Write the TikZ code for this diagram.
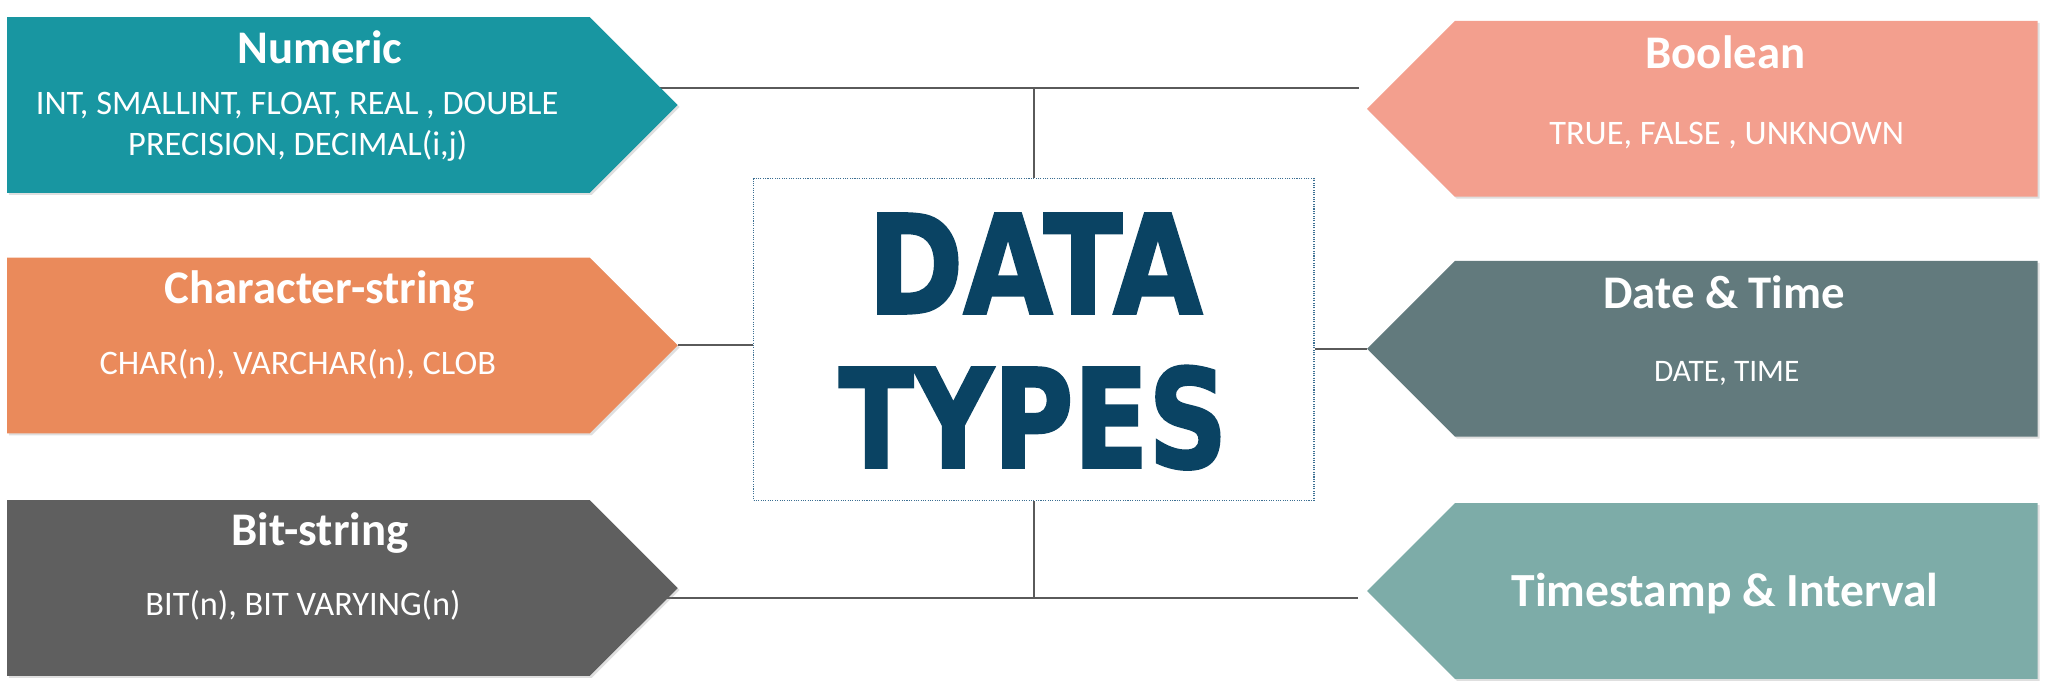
\documentclass[tikz,border=0pt]{standalone}
\usepackage{fontspec, graphicx}
\setmainfont{Carlito}
\newfontfamily\bannerfont{DejaVu Sans}[BoldFeatures={FakeBold=2}]
\usetikzlibrary{shapes.symbols, shadows, backgrounds}
\definecolor{numcol}{HTML}{1896A1}
\definecolor{boolcol}{HTML}{F39F8E}
\definecolor{charcol}{HTML}{EA8A5B}
\definecolor{datecol}{HTML}{627A7D}
\definecolor{bitcol}{HTML}{5F5F5F}
\definecolor{stampcol}{HTML}{7DACA8}
\definecolor{bannercol}{HTML}{0A4363}
\definecolor{linkgray}{HTML}{5A5A5A}
\definecolor{framecol}{HTML}{3B6F92}
\tikzset{
  typebox/.style={signal, signal pointer angle=90, minimum width=513.5pt,
    minimum height=134.5pt, inner sep=0pt, outer sep=0pt,
    drop shadow={shadow xshift=1.5pt, shadow yshift=-1.5pt, opacity=0.25}},
  title/.style={text=white, anchor=base, inner sep=0pt,
    font=\bfseries\fontsize{35.8}{42}\selectfont},
  body/.style={text=white, anchor=base, inner sep=0pt,
    font=\fontsize{26.3}{31}\selectfont},
  link/.style={draw=linkgray, line width=1.5pt},
  banner/.style={text=bannercol, anchor=base, inner sep=0pt,
    font=\bannerfont\bfseries\fontsize{105}{110}\selectfont}
}

\begin{document}
\begin{tikzpicture}[x=1pt, y=-1pt]
\useasboundingbox (0,0) rectangle (1568,527.6);

% left column
\node[typebox, signal to=east, fill=numcol] (numeric) at (228.5,80.4) {};
\node[typebox, signal to=east, fill=charcol] (charstr) at (228.5,264.5) {};
\node[typebox, signal to=east, fill=bitcol] (bitstr) at (228.5,450.2) {};
% right column
\node[typebox, signal to=west, fill=boolcol] (boolean) at (1337,83.3) {};
\node[typebox, signal to=west, fill=datecol] (datetime) at (1337,267) {};
\node[typebox, signal to=west, fill=stampcol] (stamp) at (1337,452.5) {};

% centre frame
\node[draw=framecol, densely dotted, line width=0.8pt, minimum width=429pt,
  minimum height=246pt, inner sep=0pt] (types) at (791.5,260) {};
\node[banner] (dataword) at (792.5,240) {\scalebox{0.84}[1]{DATA}};
\node[banner] (typesword) at (791,358) {\scalebox{0.8}[1]{TYPES}};

% labels
\node[title] (numtitle) at (245,48.5) {Numeric};
\node[body] (numbody) at (227.5,88) {INT, SMALLINT, FLOAT, REAL , DOUBLE};
\node[body] (numbodyb) at (228,118.7) {PRECISION, DECIMAL(i,j)};
\node[title] (chartitle) at (245,232.3) {Character-string};
\node[body] (charbody) at (228,286.6) {CHAR(n), VARCHAR(n), CLOB};
\node[title] (bittitle) at (245,417.3) {Bit-string};
\node[body] (bitbody) at (232,471.4) {BIT(n), BIT VARYING(n)};
\node[title] (booltitle) at (1321,52.3) {Boolean};
\node[body] (boolbody) at (1322,110.3) {TRUE, FALSE , UNKNOWN};
\node[title] (datetitle) at (1320,236) {Date \& Time};
\node[body, font=\fontsize{24}{29}\selectfont] (datebody) at (1322,292.2) {DATE, TIME};
\node[title, font=\bfseries\fontsize{36.4}{42}\selectfont] (stamptitle) at (1320.7,464.5) {Timestamp \& Interval};

% connectors
\coordinate (topR) at (1040.6,67.6);
\coordinate (botR) at (1040,457.6);
\begin{scope}[on background layer]
\draw[link] (numeric.center |- topR) -- (topR);
\draw[link] (bitstr.center |- botR) -- (botR);
\draw[link] (types.north) -- (types.north |- topR);
\draw[link] (types.south) -- (types.south |- botR);
\draw[link] (charstr.east) -- (charstr.east -| types.west);
\draw[link] (datetime.west -| types.east) -- (datetime.west);
\end{scope}
\end{tikzpicture}
\end{document}
